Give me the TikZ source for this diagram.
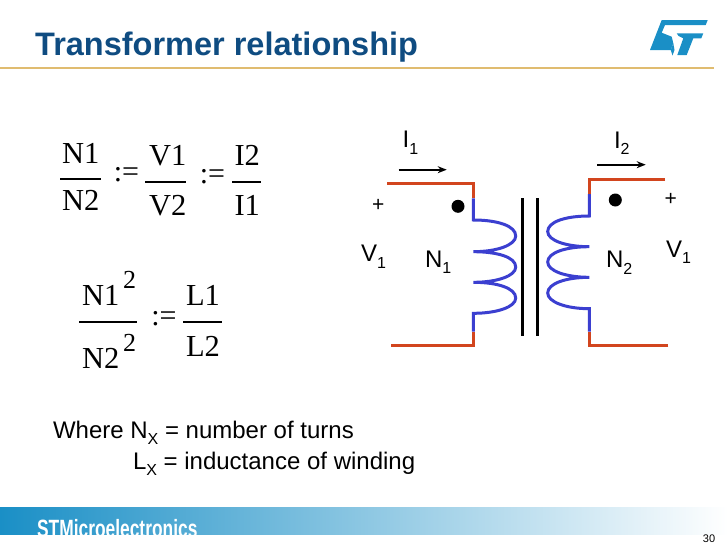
\documentclass[tikz,border=0pt]{standalone}
\usepackage{fontspec}
\setmainfont{Liberation Sans}
\newfontfamily\serifface{Liberation Serif}
\usetikzlibrary{arrows.meta}
\definecolor{wirered}{HTML}{D2451E}
\definecolor{coilblue}{HTML}{3B3FD0}
\definecolor{titleblue}{HTML}{0F4C81}
\definecolor{rulegold}{HTML}{E0BC70}
\definecolor{logoblue}{HTML}{1A8FC6}
\newcommand{\labsub}[1]{\raisebox{-6.5pt}{\fontsize{16}{16}\selectfont #1}}
\newcommand{\bodysz}{\fontsize{24}{24}\selectfont}
\tikzset{
  txt/.style={inner sep=0pt,outer sep=0pt,anchor=base west,font=\bodysz},
  eq/.style={inner sep=0pt,outer sep=0pt,anchor=base west,font=\serifface\fontsize{30.5}{30.5}\selectfont},
  sup2/.style={inner sep=0pt,outer sep=0pt,anchor=base west,font=\serifface\fontsize{26}{26}\selectfont},
  mid/.style={inner sep=0pt,outer sep=0pt,anchor=center,font=\serifface\fontsize{30}{30}\selectfont},
  bar/.style={line width=1.6pt,black},
  redw/.style={line width=3pt,wirered,line join=miter},
  bluew/.style={line width=3pt,coilblue},
  core/.style={line width=3pt,black},
  cur/.style={line width=2pt,black,-{Stealth[length=9pt,width=7pt]}},
  dot/.style={circle,fill=black,inner sep=0pt,minimum size=13pt}
}
\begin{document}
\begin{tikzpicture}[x=1pt,y=-1pt]
\useasboundingbox (0,0) rectangle (728,546);
% header
\node[inner sep=0pt,anchor=base west,font=\bfseries\fontsize{32.5}{32.5}\selectfont,text=titleblue] (title) at (35,55) {Transformer relationship};
\fill[rulegold] (0,66.6) rectangle (714,68.8);
% logo
\fill[logoblue] (661.7,20) -- (707.7,20) -- (705.7,25) -- (665,25) -- (661.7,32.7) -- (671.7,36.7) -- (673.3,43.3) -- (670.7,50) -- (650,50) -- cycle;
\fill[logoblue] (676.7,33.3) -- (703.3,33.3) -- (701.3,38.3) -- (693.3,38.3) -- (686.7,55) -- (677.3,55) -- (683.3,38.3) -- (678.5,36) -- cycle;
\fill[logoblue] (670.7,50) -- (672.5,55.5) -- (674.5,50) -- (673.3,43.3) -- cycle;
% footer
\shade[left color=logoblue,right color=white] (0,507) rectangle (728,534);
\begin{scope}
\clip (0,507) rectangle (728,534);
\node[inner sep=0pt,anchor=base west,xscale=.695,font=\bfseries\fontsize{25}{25}\selectfont,text=white] (brand) at (37,537.5) {STMicroelectronics};
\end{scope}
\node[inner sep=0pt,font=\fontsize{11}{11}\selectfont,text=black] (pageno) at (709,539) {30};
% equation 1
\node[eq] (n1a) at (62,163) {N1};
\node[eq] (n2a) at (62,210.7) {N2};
\draw[bar] (60,179) -- (101,179);
\node[mid] (ea) at (126.5,175) {:=};
\node[eq] (v1a) at (149,165) {V1};
\node[eq] (v2a) at (149,215) {V2};
\draw[bar] (145,181.7) -- (186,181.7);
\node[mid] (eb) at (212.5,177) {:=};
\node[eq] (i2a) at (234.5,165) {I2};
\node[eq] (i1a) at (234.5,215) {I1};
\draw[bar] (232,181.7) -- (261,181.7);
% equation 2
\node[eq] (n1b) at (82,305.7) {N1};
\node[sup2] (s1b) at (123,288) {2};
\node[eq] (n2b) at (82,368) {N2};
\node[sup2] (s2b) at (123,351) {2};
\draw[bar] (79,321.7) -- (137,321.7);
\node[mid] (ec) at (164,319) {:=};
\node[eq] (l1b) at (186,305.7) {L1};
\node[eq] (l2b) at (186,356) {L2};
\draw[bar] (183,321.7) -- (222,321.7);
% bottom text
\node[txt] (where) at (53,438.3) {Where N\labsub{X} = number of turns};
\node[txt] (lx) at (133,469) {L\labsub{X} = inductance of winding};
% coordinates
\coordinate (lt0) at (387.3,183.3);
\coordinate (lt1) at (473.3,183.3);
\coordinate (lt2) at (473.3,198.3);
\coordinate (lc0) at (473.3,220);
\coordinate (lc1) at (473.3,251.7);
\coordinate (lc2) at (473.3,282.3);
\coordinate (lc3) at (473.3,313.3);
\coordinate (lb2) at (473.3,331.7);
\coordinate (lb1) at (473.3,345.7);
\coordinate (lb0) at (391,345.7);
\coordinate (rt0) at (665,179.3);
\coordinate (rt1) at (589.3,179.3);
\coordinate (rt2) at (589.3,194);
\coordinate (rc0) at (589.3,216);
\coordinate (rc1) at (589.3,246.7);
\coordinate (rc2) at (589.3,277.3);
\coordinate (rc3) at (589.3,308.7);
\coordinate (rb2) at (589.3,331.7);
\coordinate (rb1) at (589.3,345.7);
\coordinate (rb0) at (668.3,345.7);
\coordinate (c1t) at (522.3,198.3);
\coordinate (c1b) at (522.3,336);
\coordinate (c2t) at (537.3,198.3);
\coordinate (c2b) at (537.3,336);
\coordinate (a1s) at (398.7,169.7);
\coordinate (a1e) at (446.7,169.7);
\coordinate (a2s) at (597.3,164.7);
\coordinate (a2e) at (645.7,164.7);
% windings
\draw[bluew] (lt2) -- (lc0)
  .. controls (498,220) and (515.7,226) .. (515.7,236)
  .. controls (515.7,245) and (497,251.7) .. (lc1)
  .. controls (497,251.7) and (515.7,257) .. (515.7,267)
  .. controls (515.7,276) and (497,282.3) .. (lc2)
  .. controls (497,282.3) and (515.7,288) .. (515.7,298)
  .. controls (515.7,307) and (497,313.3) .. (lc3) -- (lb2);
\draw[bluew] (rt2) -- (rc0)
  .. controls (565,216) and (547.7,222) .. (547.7,231.5)
  .. controls (547.7,240.5) and (566,246.7) .. (rc1)
  .. controls (566,246.7) and (547.7,252.5) .. (547.7,262)
  .. controls (547.7,271) and (566,277.3) .. (rc2)
  .. controls (566,277.3) and (547.7,283.5) .. (547.7,293)
  .. controls (547.7,302) and (566,308.7) .. (rc3) -- (rb2);
\draw[redw] (lt0) -- (lt1) -- (lt2);
\draw[redw] (lb0) -- (lb1) -- (lb2);
\draw[redw] (rt0) -- (rt1) -- (rt2);
\draw[redw] (rb0) -- (rb1) -- (rb2);
\draw[core] (c1t) -- (c1b);
\draw[core] (c2t) -- (c2b);
\draw[cur] (a1s) -- (a1e);
\draw[cur] (a2s) -- (a2e);
\node[dot] (d1) at (458,206.3) {};
\node[dot] (d2) at (615.3,200) {};
% labels
\node[txt] (i1l) at (402.7,147.5) {I\labsub{1}};
\node[txt] (i2l) at (614,148.3) {I\labsub{2}};
\node[txt] (v1l) at (361,261.7) {V\labsub{1}};
\node[txt] (v1r) at (666,257.3) {V\labsub{1}};
\node[txt] (n1l) at (425,267) {N\labsub{1}};
\node[txt] (n2l) at (606,267.7) {N\labsub{2}};
\node[inner sep=0pt,font=\fontsize{21}{21}\selectfont] (pl) at (378.3,205) {+};
\node[inner sep=0pt,font=\fontsize{21}{21}\selectfont] (pr) at (670.7,199.3) {+};
\end{tikzpicture}
\end{document}
